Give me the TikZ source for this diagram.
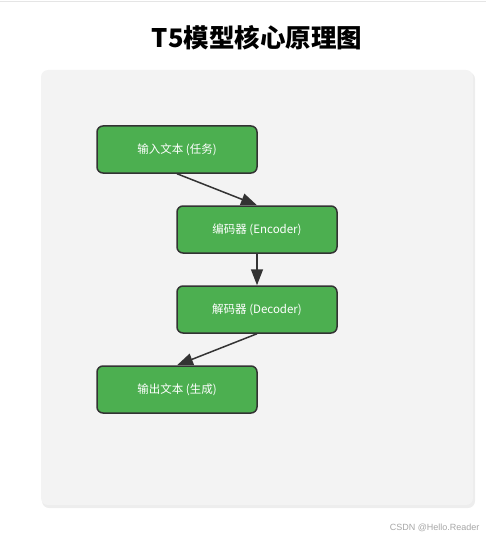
\documentclass[tikz,border=0pt]{standalone}
\usepackage{fontspec}
\setmainfont{Liberation Sans}
\newfontfamily\cjk{Noto Sans CJK SC}
\usetikzlibrary{arrows.meta,positioning}
\definecolor{panelgray}{HTML}{F3F3F3}
\definecolor{nodegreen}{HTML}{4CAF50}
\definecolor{edgegray}{HTML}{333333}
\tikzset{
  stepbox/.style={draw=edgegray, line width=1.5pt, fill=nodegreen, rounded corners=6pt,
    minimum width=160pt, minimum height=47pt, text=white, font=\cjk\fontsize{11.5}{13}\selectfont},
  flow/.style={-{Triangle[length=16pt,width=12pt]}, draw=edgegray, line width=1.5pt},
}
\begin{document}
\begin{tikzpicture}[x=1pt,y=-1pt]
    \useasboundingbox (0,0) rectangle (486,540);
    % Page edge
    \draw[black!10] (0,1) -- (486,1);

    % Title
    \node[font=\cjk\bfseries\fontsize{25.5}{30}\selectfont] (title) at (257,38) {T5模型核心原理图};

    % Panel
    \fill[black!7, rounded corners=7pt] (42,72) rectangle (475,508);
    \fill[panelgray, rounded corners=7pt] (41,70) rectangle (473,505);

    % Steps
    \node[stepbox] (input) at (177,149.5) {输入文本 (任务)};
    \node[stepbox] (encoder) at (257,229.5) {编码器 (Encoder)};
    \node[stepbox] (decoder) at (257,309.5) {解码器 (Decoder)};
    \node[stepbox] (output) at (177,389.5) {输出文本 (生成)};

    % Arrows
    \draw[flow] (input.south) -- (encoder.north);
    \draw[flow] (encoder.south) -- (decoder.north);
    \draw[flow] (decoder.south) -- (output.north);

    % Watermark
    \node[anchor=east, text=black!35, font=\fontsize{9}{11}\selectfont] (mark) at (483,528) {CSDN @Hello.Reader};
\end{tikzpicture}
\end{document}
